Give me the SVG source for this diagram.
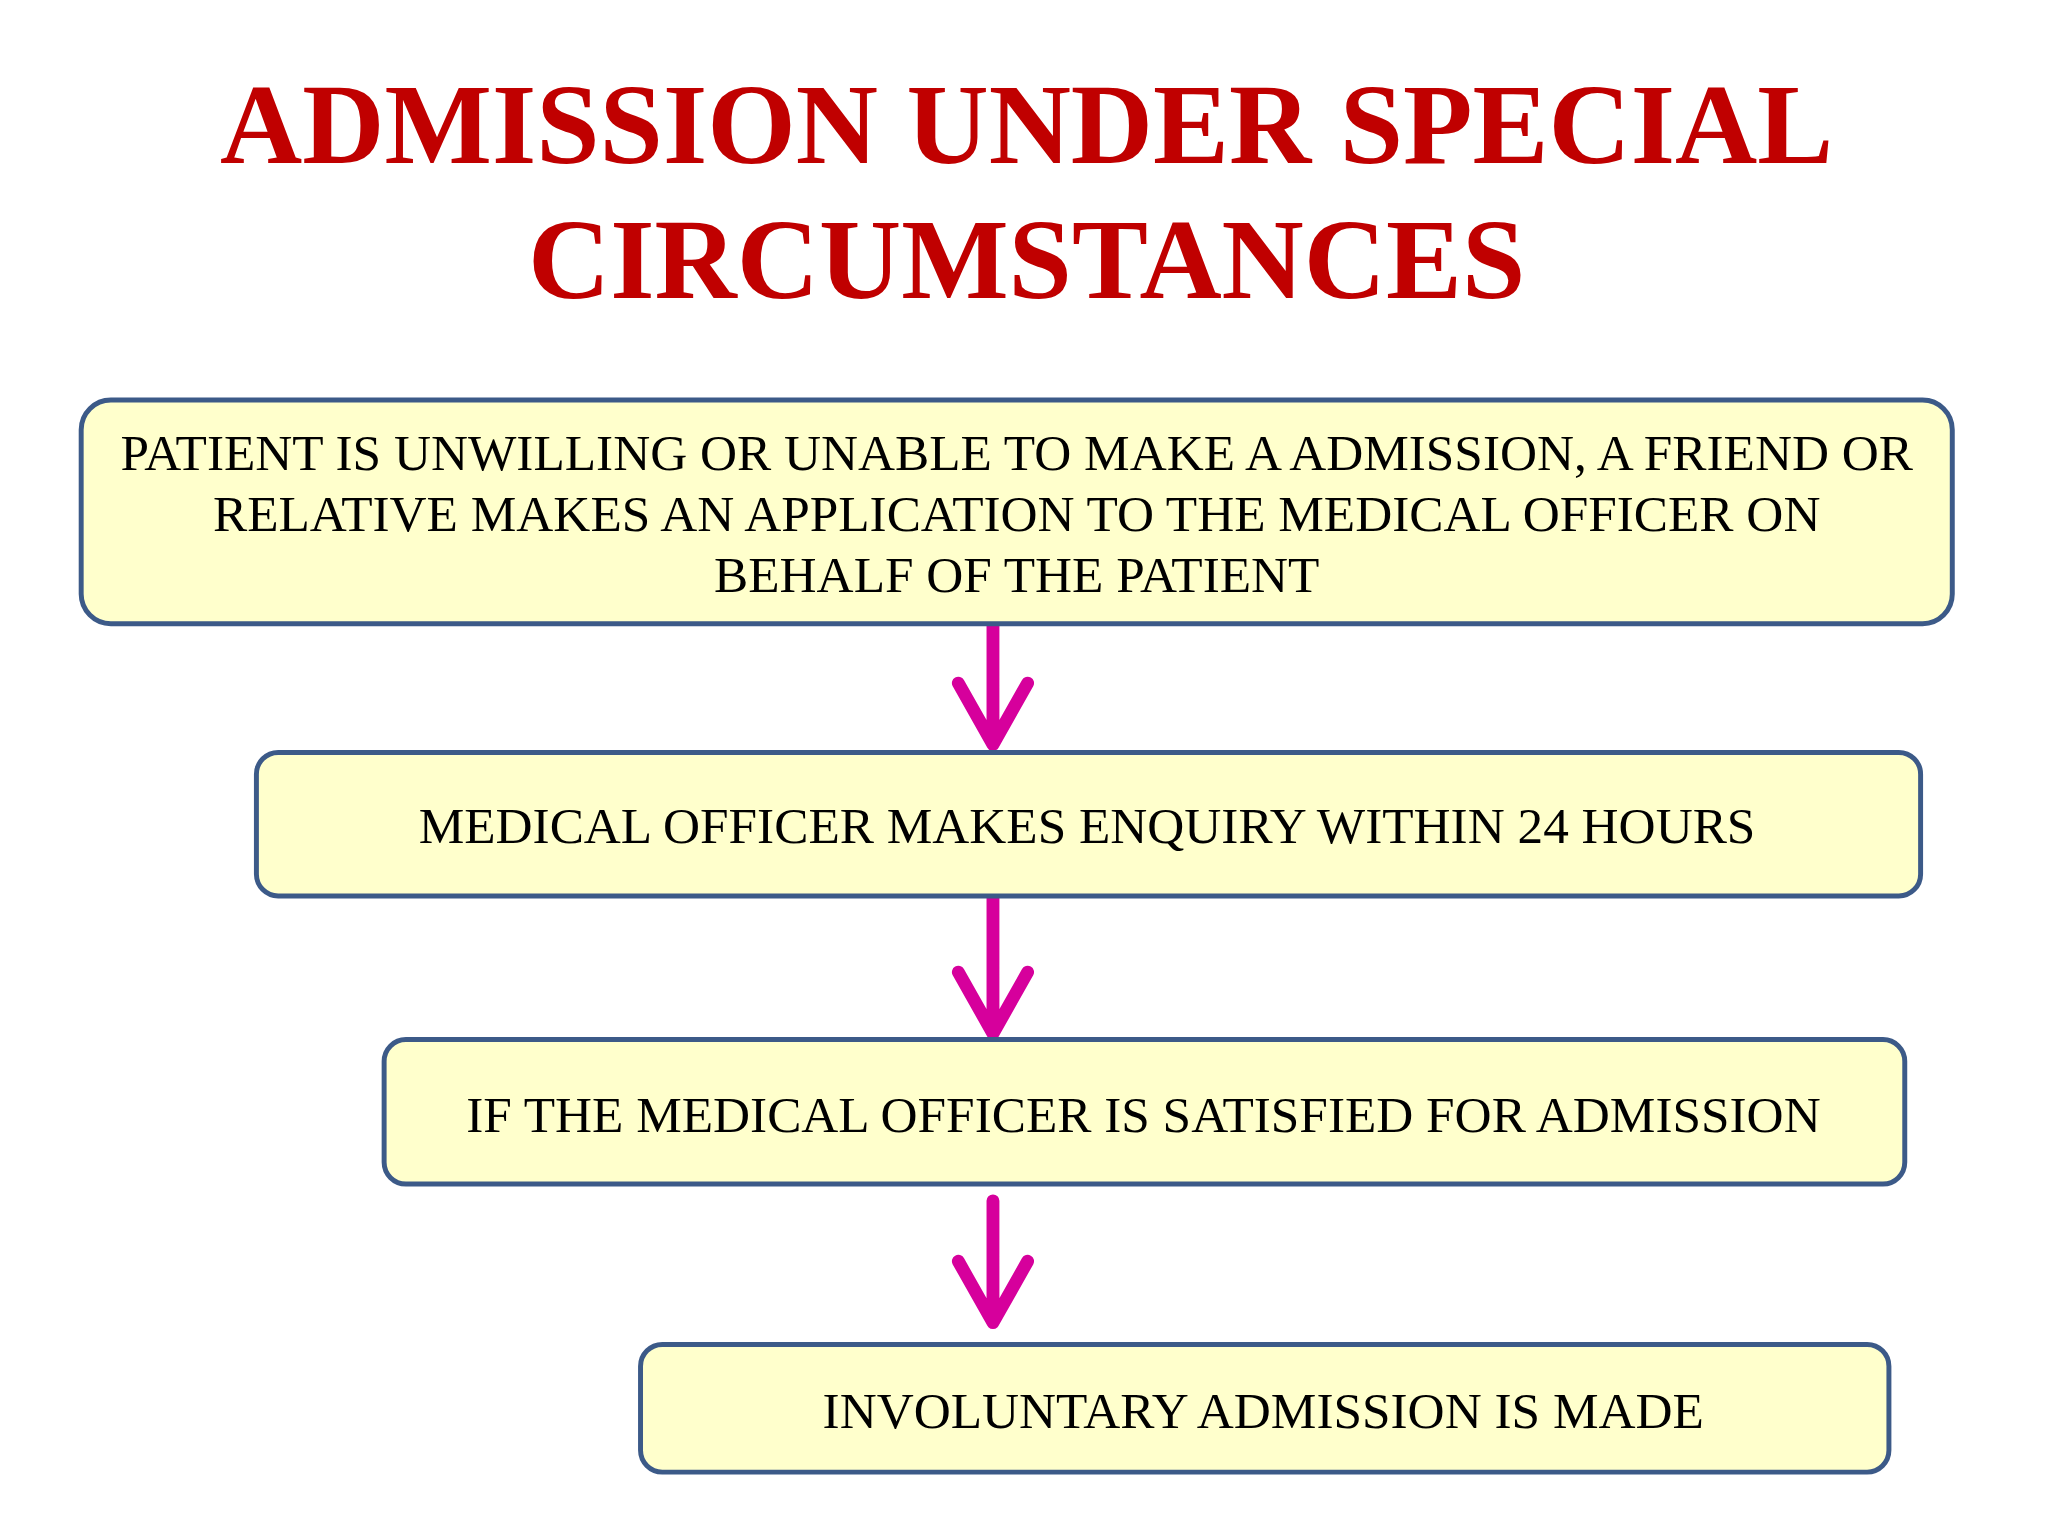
<svg xmlns="http://www.w3.org/2000/svg" width="2048" height="1536" viewBox="0 0 2048 1536">
<style>
.title{font-family:"Liberation Serif",serif;font-weight:bold;font-size:115px;fill:#C00000;text-anchor:middle}
.box{fill:#FFFFCC;stroke:#3C5A88;stroke-width:5}
.t{font-family:"Liberation Serif",serif;font-size:51.8px;fill:#000;text-anchor:middle}
.arr{stroke:#D6009C;stroke-width:13;fill:none;stroke-linecap:round;stroke-linejoin:round}
</style>
<rect width="2048" height="1536" fill="#FFFFFF"/>
<g transform="scale(0.99)">
<text class="title" x="1037" y="165">ADMISSION UNDER SPECIAL</text>
<text class="title" x="1037" y="301">CIRCUMSTANCES</text>
<g id="connectors">
<path class="arr" d="M1003 632V752M968 690L1003 752L1038 690"/>
<path class="arr" d="M1003 907V1044M968 982L1003 1044L1038 982"/>
<path class="arr" d="M1003 1213V1336M968 1274L1003 1336L1038 1274"/>
</g>
<g id="n1"><rect class="box" x="82" y="404" width="1890" height="226" rx="30"/>
<text class="t" x="1027" y="475">PATIENT IS UNWILLING OR UNABLE TO MAKE A ADMISSION, A FRIEND OR</text>
<text class="t" x="1027" y="536">RELATIVE MAKES AN APPLICATION TO THE MEDICAL OFFICER ON</text>
<text class="t" x="1027" y="598">BEHALF OF THE PATIENT</text></g>
<g id="n2"><rect class="box" x="259" y="760" width="1681" height="145" rx="22"/>
<text class="t" x="1098" y="852">MEDICAL OFFICER MAKES ENQUIRY WITHIN 24 HOURS</text></g>
<g id="n3"><rect class="box" x="388" y="1050" width="1536" height="146" rx="22"/>
<text class="t" x="1155" y="1143">IF THE MEDICAL OFFICER IS SATISFIED FOR ADMISSION</text></g>
<g id="n4"><rect class="box" x="647" y="1358" width="1261" height="129" rx="22"/>
<text class="t" x="1276" y="1442">INVOLUNTARY ADMISSION IS MADE</text></g>
</g>
</svg>
